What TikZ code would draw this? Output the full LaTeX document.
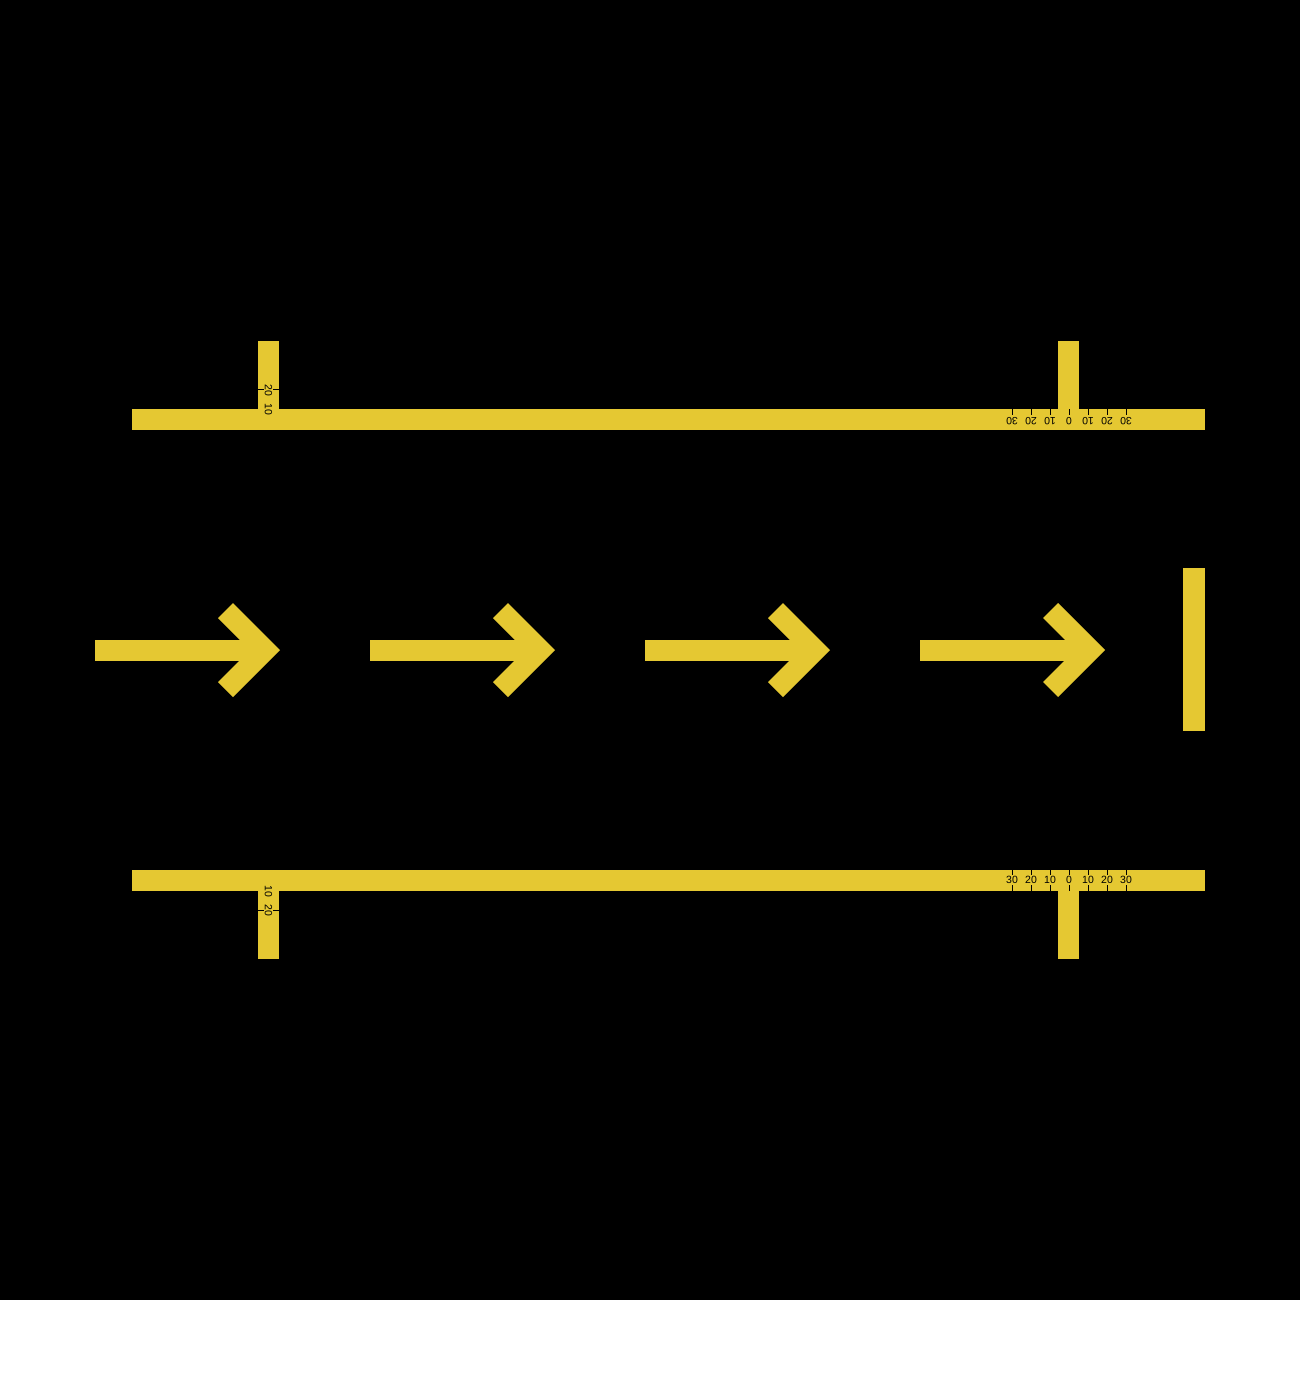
\documentclass[tikz,border=0pt]{standalone}
\usepackage{fontspec}
\setmainfont{Liberation Sans}
\definecolor{ylw}{RGB}{229,200,50}
\begin{document}
\begin{tikzpicture}[x=1pt,y=-1pt,
  lbl/.style={font=\fontsize{10.5}{11}\selectfont, inner sep=0pt, text=black},
  tickline/.style={black, line width=0.8pt},
  bar/.style={fill=ylw}]
\fill[black] (0,0) rectangle (1300,1300);
\fill[white] (0,1300) rectangle (1300,1390);
\useasboundingbox (0,0) rectangle (1300,1390);

% top bar with stubs
\fill[bar] (132,409) rectangle (1205,430);
\fill[bar] (258,341) rectangle (279,409.5);
\fill[bar] (1058,341) rectangle (1079,409.5);
% bottom bar with stubs
\fill[bar] (132,870) rectangle (1205,891);
\fill[bar] (258,890.5) rectangle (279,959);
\fill[bar] (1058,890.5) rectangle (1079,959);

% top bar scale (upside down)
\foreach \k/\t [count=\i] in {-3/30,-2/20,-1/10,0/0,1/10,2/20,3/30}{
  \draw[tickline] (1069+19*\k,409) -- (1069+19*\k,415);
  \node[lbl, rotate=180] (tl\i) at (1069+19*\k,421) {\t};
}
% bottom bar scale
\foreach \k/\t [count=\i] in {-3/30,-2/20,-1/10,0/0,1/10,2/20,3/30}{
  \draw[tickline] (1069+19*\k,870) -- (1069+19*\k,875);
  \draw[tickline] (1069+19*\k,885) -- (1069+19*\k,891);
  \node[lbl] (bl\i) at (1069+19*\k,880) {\t};
}

% left stub scales
\draw[tickline] (258,389.5) -- (264,389.5) (273,389.5) -- (279,389.5);
\node[lbl, rotate=-90] (ls20) at (268.5,390) {20};
\node[lbl, rotate=-90] (ls10) at (268.5,409.5) {10};
\draw[tickline] (258,910) -- (264,910) (273,910) -- (279,910);
\node[lbl, rotate=-90] (lb10) at (268.5,891.5) {10};
\node[lbl, rotate=-90] (lb20) at (268.5,910.5) {20};

% arrows
\foreach \dx in {0,275,550,825}{
  \begin{scope}[xshift=\dx]
    \fill[bar] (95,639.5) rectangle (262,660.5);
    \fill[bar] (233,603) -- (280,650) -- (233,697) -- (218,682) -- (250,650) -- (218,618) -- cycle;
  \end{scope}
}

% right vertical bar
\fill[bar] (1183,568) rectangle (1205,731);
\end{tikzpicture}
\end{document}
